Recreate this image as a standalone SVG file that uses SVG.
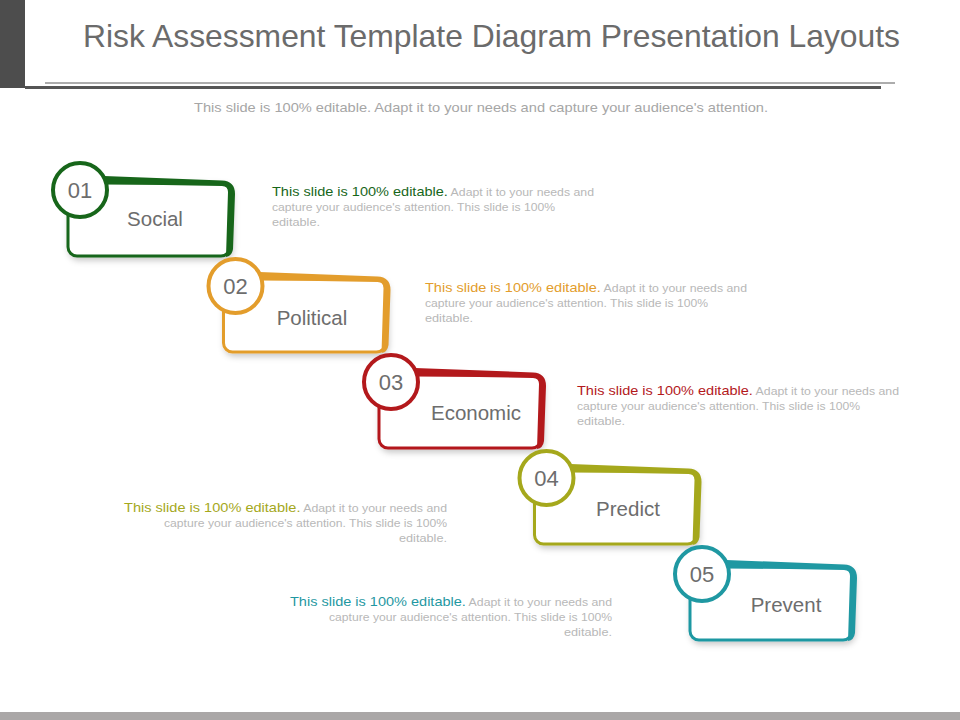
<svg xmlns="http://www.w3.org/2000/svg" xmlns:xlink="http://www.w3.org/1999/xlink" width="960" height="720" viewBox="0 0 960 720">
<style>
.title{font-family:"Liberation Sans",Arial,sans-serif;font-size:32px;fill:#6b6b6b}
.sub{font-family:"Liberation Sans",Arial,sans-serif;font-size:13.5px;fill:#a6a6a6}
.num{font-family:"Liberation Sans",Arial,sans-serif;font-size:22px;fill:#6d6d6d;text-anchor:middle}
.lbl{font-family:"Liberation Sans",Arial,sans-serif;font-size:20.5px;fill:#6d6d6d;text-anchor:middle}
.desc{font-family:"Liberation Sans",Arial,sans-serif;font-size:11px;fill:#b8b8b8}
.hd{font-size:13px}
</style>
<defs>
<filter id="sh" x="-20%" y="-20%" width="140%" height="150%">
<feDropShadow dx="2" dy="3" stdDeviation="3" flood-color="#000" flood-opacity="0.22"/>
</filter>
<g id="node">
<rect x="68" y="183" width="162" height="73" rx="9" fill="#fff" stroke="currentColor" stroke-width="3" filter="url(#sh)"/>
<path d="M104,176 L222,180.5 Q235,181 235,194 L233,249 Q232,256 226,257 L228,192 Q228,186 222,186 L104,184 Z" fill="currentColor"/>
<circle cx="80" cy="190" r="27" fill="#fff" stroke="currentColor" stroke-width="4"/>
</g>
</defs>
<rect width="960" height="720" fill="#fff"/>
<g id="header">
<rect x="0" y="0" width="25" height="88" fill="#4d4d4d"/>
<line x1="45" y1="83" x2="895" y2="83" stroke="#5a5a5a" stroke-width="1"/>
<line x1="25" y1="87.5" x2="881" y2="87.5" stroke="#555" stroke-width="3"/>
<text class="title" x="83" y="47" textLength="817" lengthAdjust="spacingAndGlyphs">Risk Assessment Template Diagram Presentation Layouts</text>
<text class="sub" x="194" y="112" textLength="574" lengthAdjust="spacingAndGlyphs">This slide is 100% editable. Adapt it to your needs and capture your audience's attention.</text>
</g>
<rect x="0" y="712" width="960" height="8" fill="#aaa7a7"/>
<g id="connectors"></g>
<g id="node1" style="color:#17661a">
<use xlink:href="#node"/>
<text class="num" x="80" y="198">01</text>
<text class="lbl" x="155" y="226">Social</text>
</g>
<g id="node2" style="color:#e39d2c">
<use xlink:href="#node" transform="translate(155.5,96)"/>
<text class="num" x="235.5" y="294">02</text>
<text class="lbl" x="312" y="325">Political</text>
</g>
<g id="node3" style="color:#b3191c">
<use xlink:href="#node" transform="translate(311,192)"/>
<text class="num" x="391" y="390">03</text>
<text class="lbl" x="476" y="420">Economic</text>
</g>
<g id="node4" style="color:#a5a81c">
<use xlink:href="#node" transform="translate(466.5,288)"/>
<text class="num" x="546.5" y="486">04</text>
<text class="lbl" x="628" y="516">Predict</text>
</g>
<g id="node5" style="color:#1f98a2">
<use xlink:href="#node" transform="translate(622,384)"/>
<text class="num" x="702" y="582">05</text>
<text class="lbl" x="786" y="612">Prevent</text>
</g>
<g id="text1" class="desc">
<text x="272" y="196" textLength="322" lengthAdjust="spacingAndGlyphs"><tspan class="hd" fill="#17661a">This slide is 100% editable.</tspan> Adapt it to your needs and</text>
<text x="272" y="211" textLength="283" lengthAdjust="spacingAndGlyphs">capture your audience's attention. This slide is 100%</text>
<text x="272" y="226" textLength="48" lengthAdjust="spacingAndGlyphs">editable.</text>
</g>
<g id="text2" class="desc">
<text x="425" y="292" textLength="322" lengthAdjust="spacingAndGlyphs"><tspan class="hd" fill="#e39d2c">This slide is 100% editable.</tspan> Adapt it to your needs and</text>
<text x="425" y="307" textLength="283" lengthAdjust="spacingAndGlyphs">capture your audience's attention. This slide is 100%</text>
<text x="425" y="322" textLength="48" lengthAdjust="spacingAndGlyphs">editable.</text>
</g>
<g id="text3" class="desc">
<text x="577" y="395" textLength="322" lengthAdjust="spacingAndGlyphs"><tspan class="hd" fill="#b3191c">This slide is 100% editable.</tspan> Adapt it to your needs and</text>
<text x="577" y="410" textLength="283" lengthAdjust="spacingAndGlyphs">capture your audience's attention. This slide is 100%</text>
<text x="577" y="425" textLength="48" lengthAdjust="spacingAndGlyphs">editable.</text>
</g>
<g id="text4" class="desc">
<text x="124" y="512" textLength="323" lengthAdjust="spacingAndGlyphs"><tspan class="hd" fill="#a5a81c">This slide is 100% editable.</tspan> Adapt it to your needs and</text>
<text x="164" y="527" textLength="283" lengthAdjust="spacingAndGlyphs">capture your audience's attention. This slide is 100%</text>
<text x="399" y="542" textLength="48" lengthAdjust="spacingAndGlyphs">editable.</text>
</g>
<g id="text5" class="desc">
<text x="290" y="606" textLength="322" lengthAdjust="spacingAndGlyphs"><tspan class="hd" fill="#1f98a2">This slide is 100% editable.</tspan> Adapt it to your needs and</text>
<text x="329" y="621" textLength="283" lengthAdjust="spacingAndGlyphs">capture your audience's attention. This slide is 100%</text>
<text x="564" y="636" textLength="48" lengthAdjust="spacingAndGlyphs">editable.</text>
</g>
</svg>
